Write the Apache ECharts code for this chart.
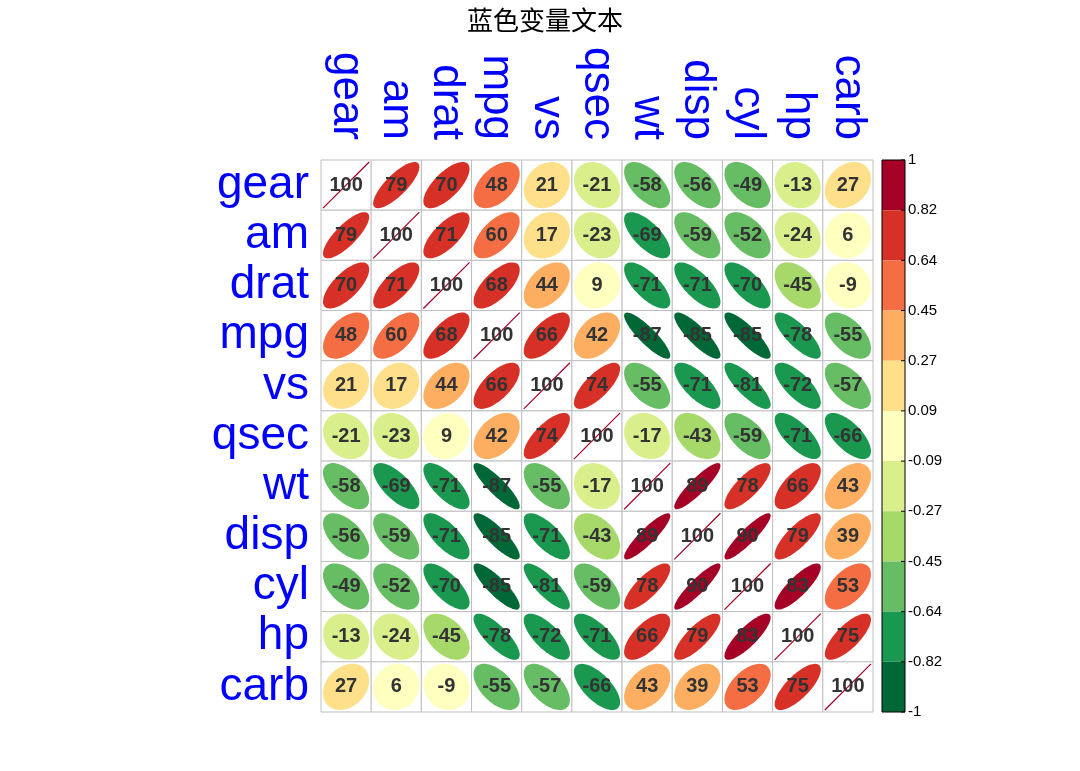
<!DOCTYPE html>
<html><head><meta charset="utf-8">
<script src="https://cdn.jsdelivr.net/npm/echarts@6/dist/echarts.min.js"></script>
<style>html,body{margin:0;padding:0;background:#fff}#c{width:1080px;height:771px}</style>
</head><body><div id="c"></div>
<script>
const vars = ['gear','am','drat','mpg','vs','qsec','wt','disp','cyl','hp','carb'];
const corr = [
[100,79,70,48,21,-21,-58,-56,-49,-13,27],
[79,100,71,60,17,-23,-69,-59,-52,-24,6],
[70,71,100,68,44,9,-71,-71,-70,-45,-9],
[48,60,68,100,66,42,-87,-85,-85,-78,-55],
[21,17,44,66,100,74,-55,-71,-81,-72,-57],
[-21,-23,9,42,74,100,-17,-43,-59,-71,-66],
[-58,-69,-71,-87,-55,-17,100,89,78,66,43],
[-56,-59,-71,-85,-71,-43,89,100,90,79,39],
[-49,-52,-70,-85,-81,-59,78,90,100,83,53],
[-13,-24,-45,-78,-72,-71,66,79,83,100,75],
[27,6,-9,-55,-57,-66,43,39,53,75,100]];
const colorTicks = ['1','0.82','0.64','0.45','0.27','0.09','-0.09','-0.27','-0.45','-0.64','-0.82','-1'];
const palette = ['#A50026','#D73027','#F46D43','#FDAE61','#FEE08B','#FFFFBF','#D9EF8B','#A6D96A','#66BD63','#1A9850','#006837'];
function colorOf(r){let i=Math.floor((1-r)/(2/11));return palette[Math.max(0,Math.min(10,i))];}
const data=[];
for(let i=0;i<11;i++)for(let j=0;j<11;j++)data.push([j,i,corr[i][j]]);
const L=321,T=160,S=552,cs=S/11;
const graphics=[];
const barX=882,barW=23;
for(let k=0;k<11;k++){
 graphics.push({type:'rect',shape:{x:barX,y:T+k*cs,width:barW,height:cs},style:{fill:palette[k]}});
}
graphics.push({type:'rect',shape:{x:barX,y:T,width:barW,height:S},style:{fill:'none',stroke:'#000',lineWidth:1}});
colorTicks.forEach((t,k)=>{
 const y=T+k*cs;
 graphics.push({type:'line',shape:{x1:barX+barW-4,y1:y,x2:barX+barW,y2:y},style:{stroke:'#000'}});
 graphics.push({type:'text',x:barX+barW+3,y:y,style:{text:t,fontSize:15,fontFamily:'Liberation Sans',fill:'#000',textVerticalAlign:'middle'}});
});
const chart=echarts.init(document.getElementById('c'));
chart.setOption({
 title:{text:'蓝色变量文本',left:540,top:2,textAlign:'center',textStyle:{fontSize:26,fontWeight:'normal',fontFamily:'Noto Sans CJK SC',color:'#000'}},
 grid:{left:L,top:T,width:S,height:S},
 xAxis:{type:'category',data:vars,position:'top',axisTick:{show:false},axisLine:{show:false},
  axisLabel:{rotate:90,color:'#0000FF',fontSize:44,fontFamily:'Liberation Sans',margin:20,interval:0},splitLine:{show:false}},
 yAxis:{type:'category',data:vars,inverse:true,axisTick:{show:false},axisLine:{show:false},
  axisLabel:{color:'#0000FF',fontSize:46,fontFamily:'Liberation Sans',margin:12,interval:0}},
 graphic:graphics,
 series:[{type:'custom',data:data,renderItem:function(params,api){
  const x=api.value(0),y=api.value(1),v=api.value(2);
  const c=api.coord([x,y]);const w=api.size([1,1])[0];
  const r=v/100;const children=[];
  children.push({type:'rect',shape:{x:c[0]-w/2,y:c[1]-w/2,width:w,height:w},style:{fill:'#fff',stroke:'#bfbfbf',lineWidth:1}});
  const sc=w*0.46;
  if(v===100){
   children.push({type:'line',shape:{x1:c[0]-sc,y1:c[1]+sc,x2:c[0]+sc,y2:c[1]-sc},style:{stroke:'#A50026',lineWidth:1.2}});
  }else{
   const d=Math.acos(r);const pts=[];
   for(let k=0;k<72;k++){const t=k/72*2*Math.PI;pts.push([c[0]+sc*Math.cos(t+d/2),c[1]-sc*Math.cos(t-d/2)]);}
   children.push({type:'polygon',shape:{points:pts},style:{fill:colorOf(r)}});
  }
  children.push({type:'text',x:c[0],y:c[1],style:{text:String(v),fontSize:20,fontWeight:'bold',fontFamily:'Liberation Sans',fill:'#333',textAlign:'center',textVerticalAlign:'middle'}});
  return {type:'group',children:children};
 }}]
});
</script></body></html>
